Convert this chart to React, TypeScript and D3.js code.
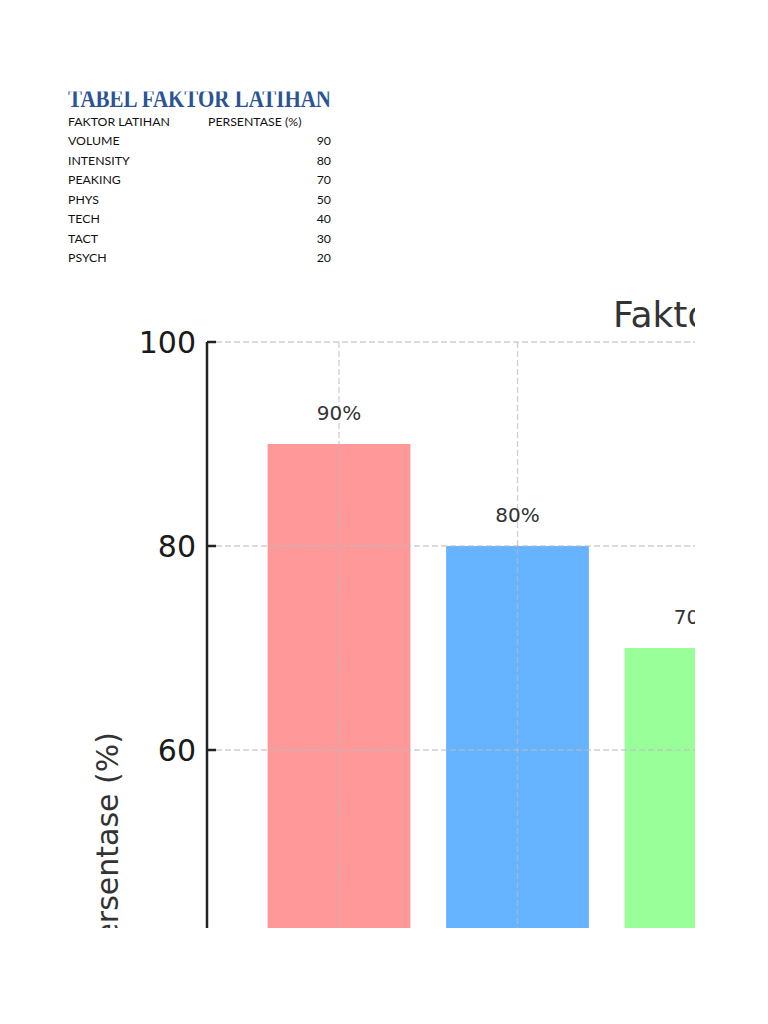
import React from "react";
import * as d3 from "d3";

const tableTitle = "TABEL FAKTOR LATIHAN";
const headers = ["FAKTOR LATIHAN", "PERSENTASE (%)"];
const factors = ["VOLUME", "INTENSITY", "PEAKING", "PHYS", "TECH", "TACT", "PSYCH"];
const values = [90, 80, 70, 50, 40, 30, 20];
const barColors = ["#ff9999", "#66b3ff", "#99ff99", "#ffcc99", "#c2c2f0", "#ffb3e6", "#c4e17f"];
const yTicks = [0, 20, 40, 60, 80, 100];
const chartTitle = "Faktor Latihan dan Persentase";
const yLabel = "Persentase (%)";

export default function App() {
  const W = 768, H = 1024;
  const y = d3.scaleLinear().domain([0, 100]).range([342 + 1020, 342]);
  const x = d3.scaleLinear().domain([0, 1]).range([339, 517.5]);
  const step = x(1) - x(0);
  const bw = step * 0.8;
  const axisX = 207;
  const clipRight = 695, clipBottom = 928, clipTop = 280;
  const rowY = d3.scaleLinear().domain([0, 1]).range([125.8, 145.3]);

  return (
    <svg width={W} height={H} style={{ position: "absolute", left: 0, top: 0, background: "#fff" }}>
      <defs>
        <clipPath id="chartClip">
          <rect x={0} y={clipTop} width={clipRight} height={clipBottom - clipTop} />
        </clipPath>
        <clipPath id="titleClip">
          <rect x={0} y={91.5} width={W} height={40} />
        </clipPath>
      </defs>
      <rect x={0} y={0} width={W} height={H} fill="#fff" />
      {/* table */}
      <g>
        <text x={68} y={107} clipPath="url(#titleClip)" fontFamily="'Liberation Serif', serif" fontWeight="bold"
          fontSize={25} fill="#2a5494" textLength={263} lengthAdjust="spacingAndGlyphs">{tableTitle}</text>
        <g fontFamily="Lato, 'Open Sans', sans-serif" fontSize={12.3} fill="#111">
          <text x={68} y={rowY(0)}>{headers[0]}</text>
          <text x={208} y={rowY(0)}>{headers[1]}</text>
          {factors.map((f, i) => (
            <g key={f}>
              <text x={68} y={rowY(i + 1)}>{f}</text>
              <text x={331} y={rowY(i + 1)} textAnchor="end">{values[i]}</text>
            </g>
          ))}
        </g>
      </g>
      {/* chart */}
      <g clipPath="url(#chartClip)" fontFamily="'DejaVu Sans', sans-serif">
        <text x={613} y={327} fontSize={36} fill="#333">{chartTitle}</text>
        {values.map((v, i) => (
          <rect key={i} x={x(i) - bw / 2} y={y(v)} width={bw} height={y(0) - y(v)} fill={barColors[i]} />
        ))}
        {yTicks.map(t => (
          <line key={"h" + t} x1={axisX} x2={2000} y1={y(t)} y2={y(t)} stroke="#bbb" strokeOpacity={0.7}
            strokeWidth={1.3} strokeDasharray="6,3" />
        ))}
        {values.map((v, i) => (
          <line key={"v" + i} x1={x(i)} x2={x(i)} y1={y(100)} y2={y(0)} stroke="#bbb" strokeOpacity={0.7}
            strokeWidth={1.3} strokeDasharray="6,3" />
        ))}
        {values.map((v, i) => (
          <text key={"l" + i} x={x(i)} y={y(v + 2) - 4} textAnchor="middle" fontSize={20} fill="#333">{v}%</text>
        ))}
        <line x1={axisX} x2={axisX} y1={y(100)} y2={y(0)} stroke="#222" strokeWidth={2.5} />
        {yTicks.map(t => (
          <g key={"t" + t}>
            <line x1={axisX} x2={axisX + 9} y1={y(t)} y2={y(t)} stroke="#222" strokeWidth={2.5} />
            <text x={196} y={y(t)} dy="0.35em" textAnchor="end" fontSize={30} fill="#1a1a1a">{t}</text>
          </g>
        ))}
        <text transform={`translate(${118},${732}) rotate(-90)`} textAnchor="end" fontSize={30} fill="#333">{yLabel}</text>
      </g>
    </svg>
  );
}
